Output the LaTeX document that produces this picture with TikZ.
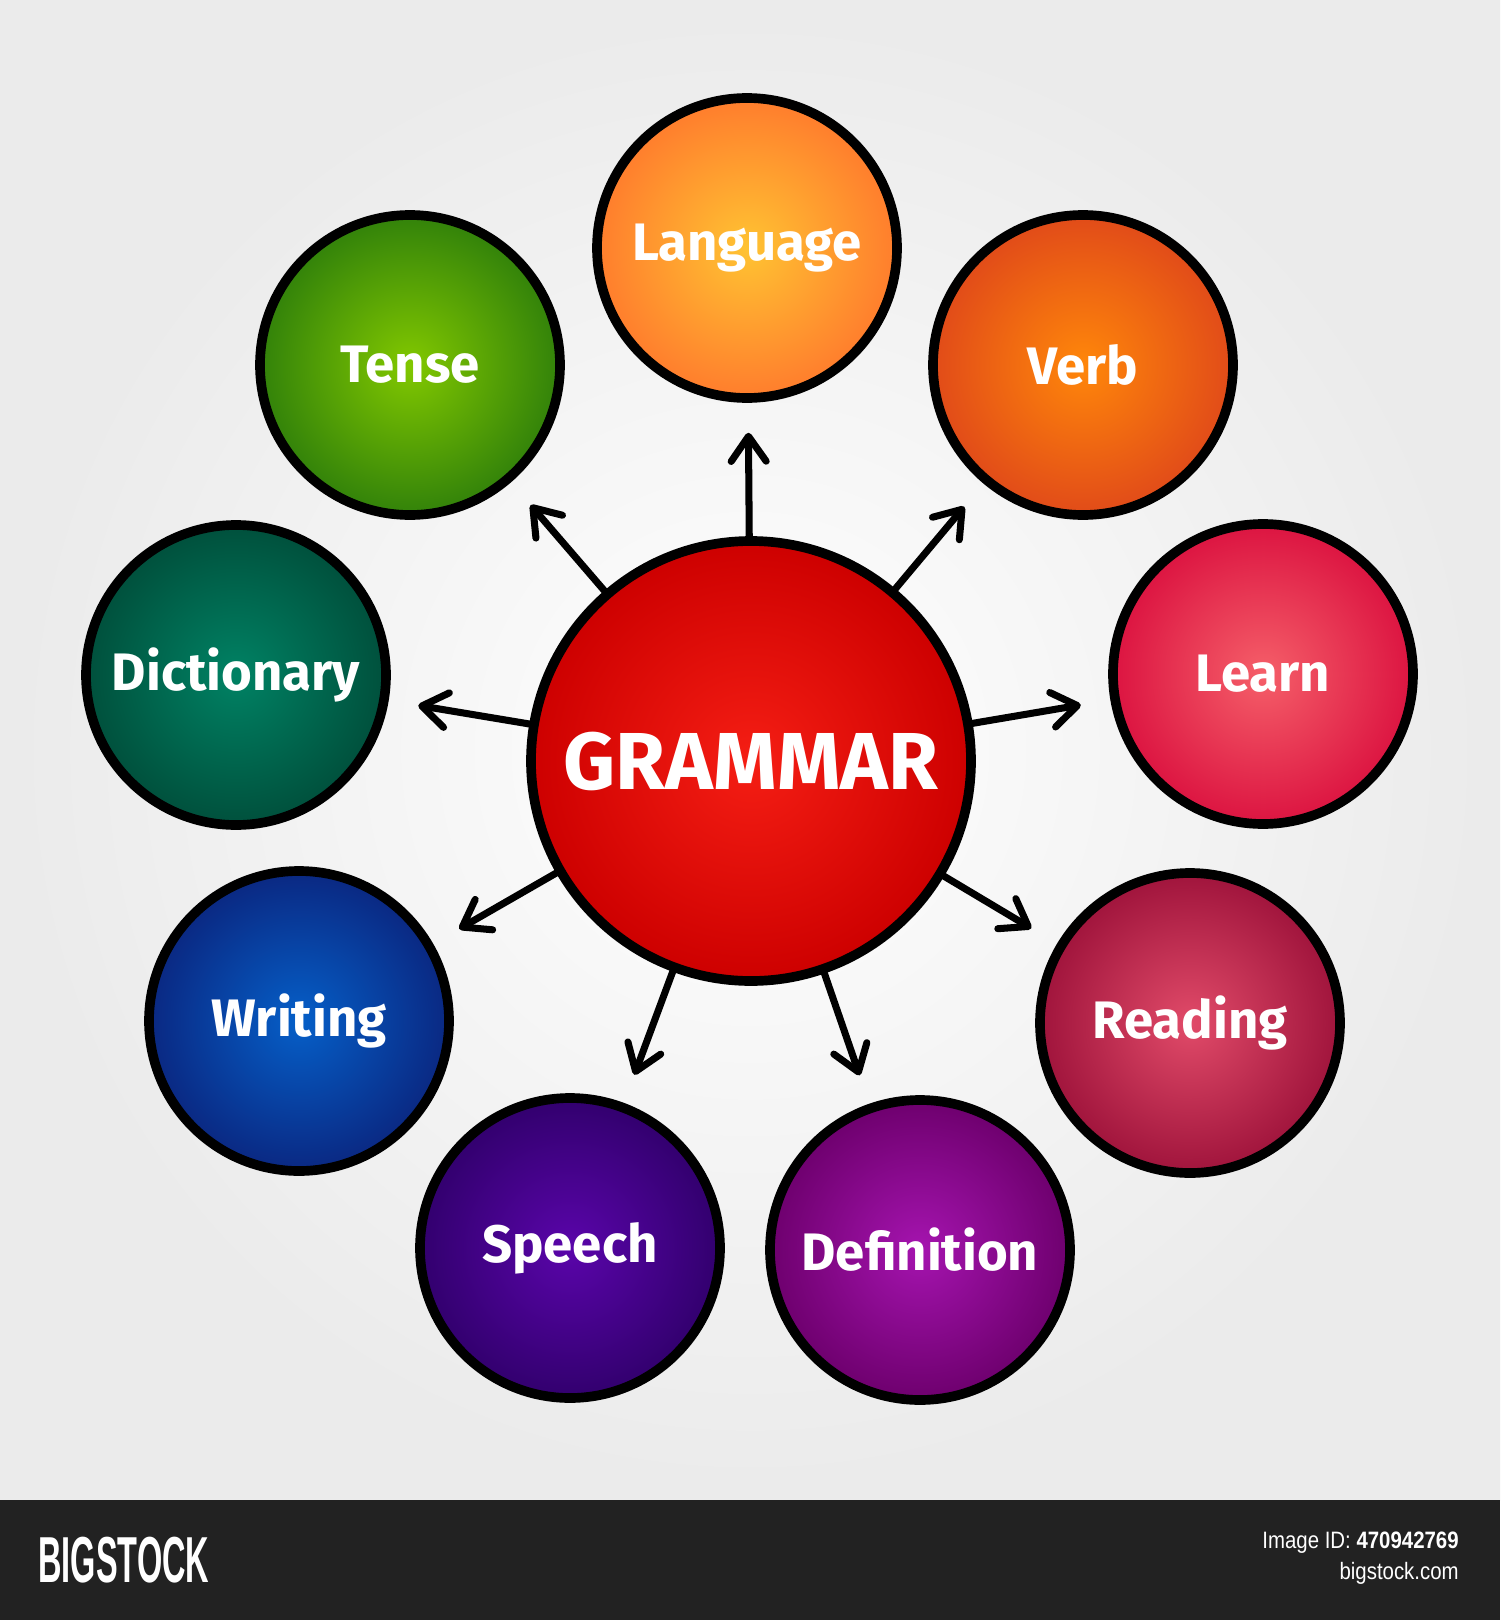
\documentclass[tikz,border=0pt]{standalone}
\usepackage{fontspec}
\setmainfont{Fira Sans}
\newfontfamily\barfont{Liberation Sans}
\usetikzlibrary{arrows.meta}

\definecolor{barcol}{RGB}{34,34,34}

\begin{document}
\begin{tikzpicture}[x=0.2mm,y=-0.2mm]

        \useasboundingbox (0,0) rectangle (1500,1620);
        \shade[inner color=white,outer color=black!8] (0,0) rectangle (1500,1500);
        \fill[barcol] (0,1500) rectangle (1500,1620);

        \begin{scope}[every node/.style={circle,draw,line width=5.5pt,minimum size=6cm,
            text=white,font=\bfseries\fontsize{30}{34}\selectfont}]
          \node[minimum size=8.8cm,font=\bfseries\fontsize{46}{50}\selectfont,
            inner color={rgb,255:red,245;green,30;blue,20},outer color={rgb,255:red,205;green,0;blue,0}]
            (0) at (751,761) {GRAMMAR};
          \node[inner color={rgb,255:red,255;green,195;blue,50},outer color={rgb,255:red,255;green,125;blue,45}]
            (1) at (747,248) {Language};
          \node[inner color={rgb,255:red,255;green,135;blue,10},outer color={rgb,255:red,225;green,75;blue,25}]
            (2) at (1083,365) {Verb};
          \node[inner color={rgb,255:red,245;green,95;blue,105},outer color={rgb,255:red,220;green,20;blue,65}]
            (3) at (1263,674) {Learn};
          \node[inner color={rgb,255:red,225;green,75;blue,105},outer color={rgb,255:red,160;green,20;blue,60}]
            (4) at (1190,1023) {Reading};
          \node[inner color={rgb,255:red,165;green,20;blue,175},outer color={rgb,255:red,110;green,0;blue,110}]
            (5) at (920,1250) {Definition};
          \node[inner color={rgb,255:red,90;green,5;blue,170},outer color={rgb,255:red,50;green,0;blue,110}]
            (6) at (570,1248) {Speech};
          \node[inner color={rgb,255:red,5;green,95;blue,200},outer color={rgb,255:red,10;green,40;blue,130}]
            (7) at (299,1021) {Writing};
          \node[inner color={rgb,255:red,0;green,130;blue,100},outer color={rgb,255:red,0;green,80;blue,60}]
            (8) at (236,675) {Dictionary};
          \node[inner color={rgb,255:red,130;green,200;blue,0},outer color={rgb,255:red,50;green,130;blue,10}]
            (9) at (410,365) {Tense};
        \end{scope}

        \begin{scope}[every edge/.style={draw,line width=4pt,line cap=round,shorten >=0.6cm,
            -{Straight Barb[length=5mm,width=7mm,round]}}]
          \path (0) edge (1);
          \path (0) edge (2);
          \path (0) edge (3);
          \path (0) edge (4);
          \path (0) edge (5);
          \path (0) edge (6);
          \path (0) edge (7);
          \path (0) edge (8);
          \path (0) edge (9);
        \end{scope}

        \begin{scope}[every node/.style={text=white,inner sep=0pt}]
          \node[anchor=west,font=\barfont\bfseries\fontsize{37}{40}\selectfont]
            (logo) at (38,1560) {\scalebox{0.5}[1]{BIGSTOCK}};
          \node[anchor=east,font=\barfont\fontsize{13.5}{15}\selectfont]
            (id) at (1459,1543) {\scalebox{0.86}[1]{Image ID: \textbf{470942769}}};
          \node[anchor=east,font=\barfont\fontsize{13.5}{15}\selectfont]
            (site) at (1459,1573) {\scalebox{0.86}[1]{bigstock.com}};
        \end{scope}

      \end{tikzpicture}
\end{document}
